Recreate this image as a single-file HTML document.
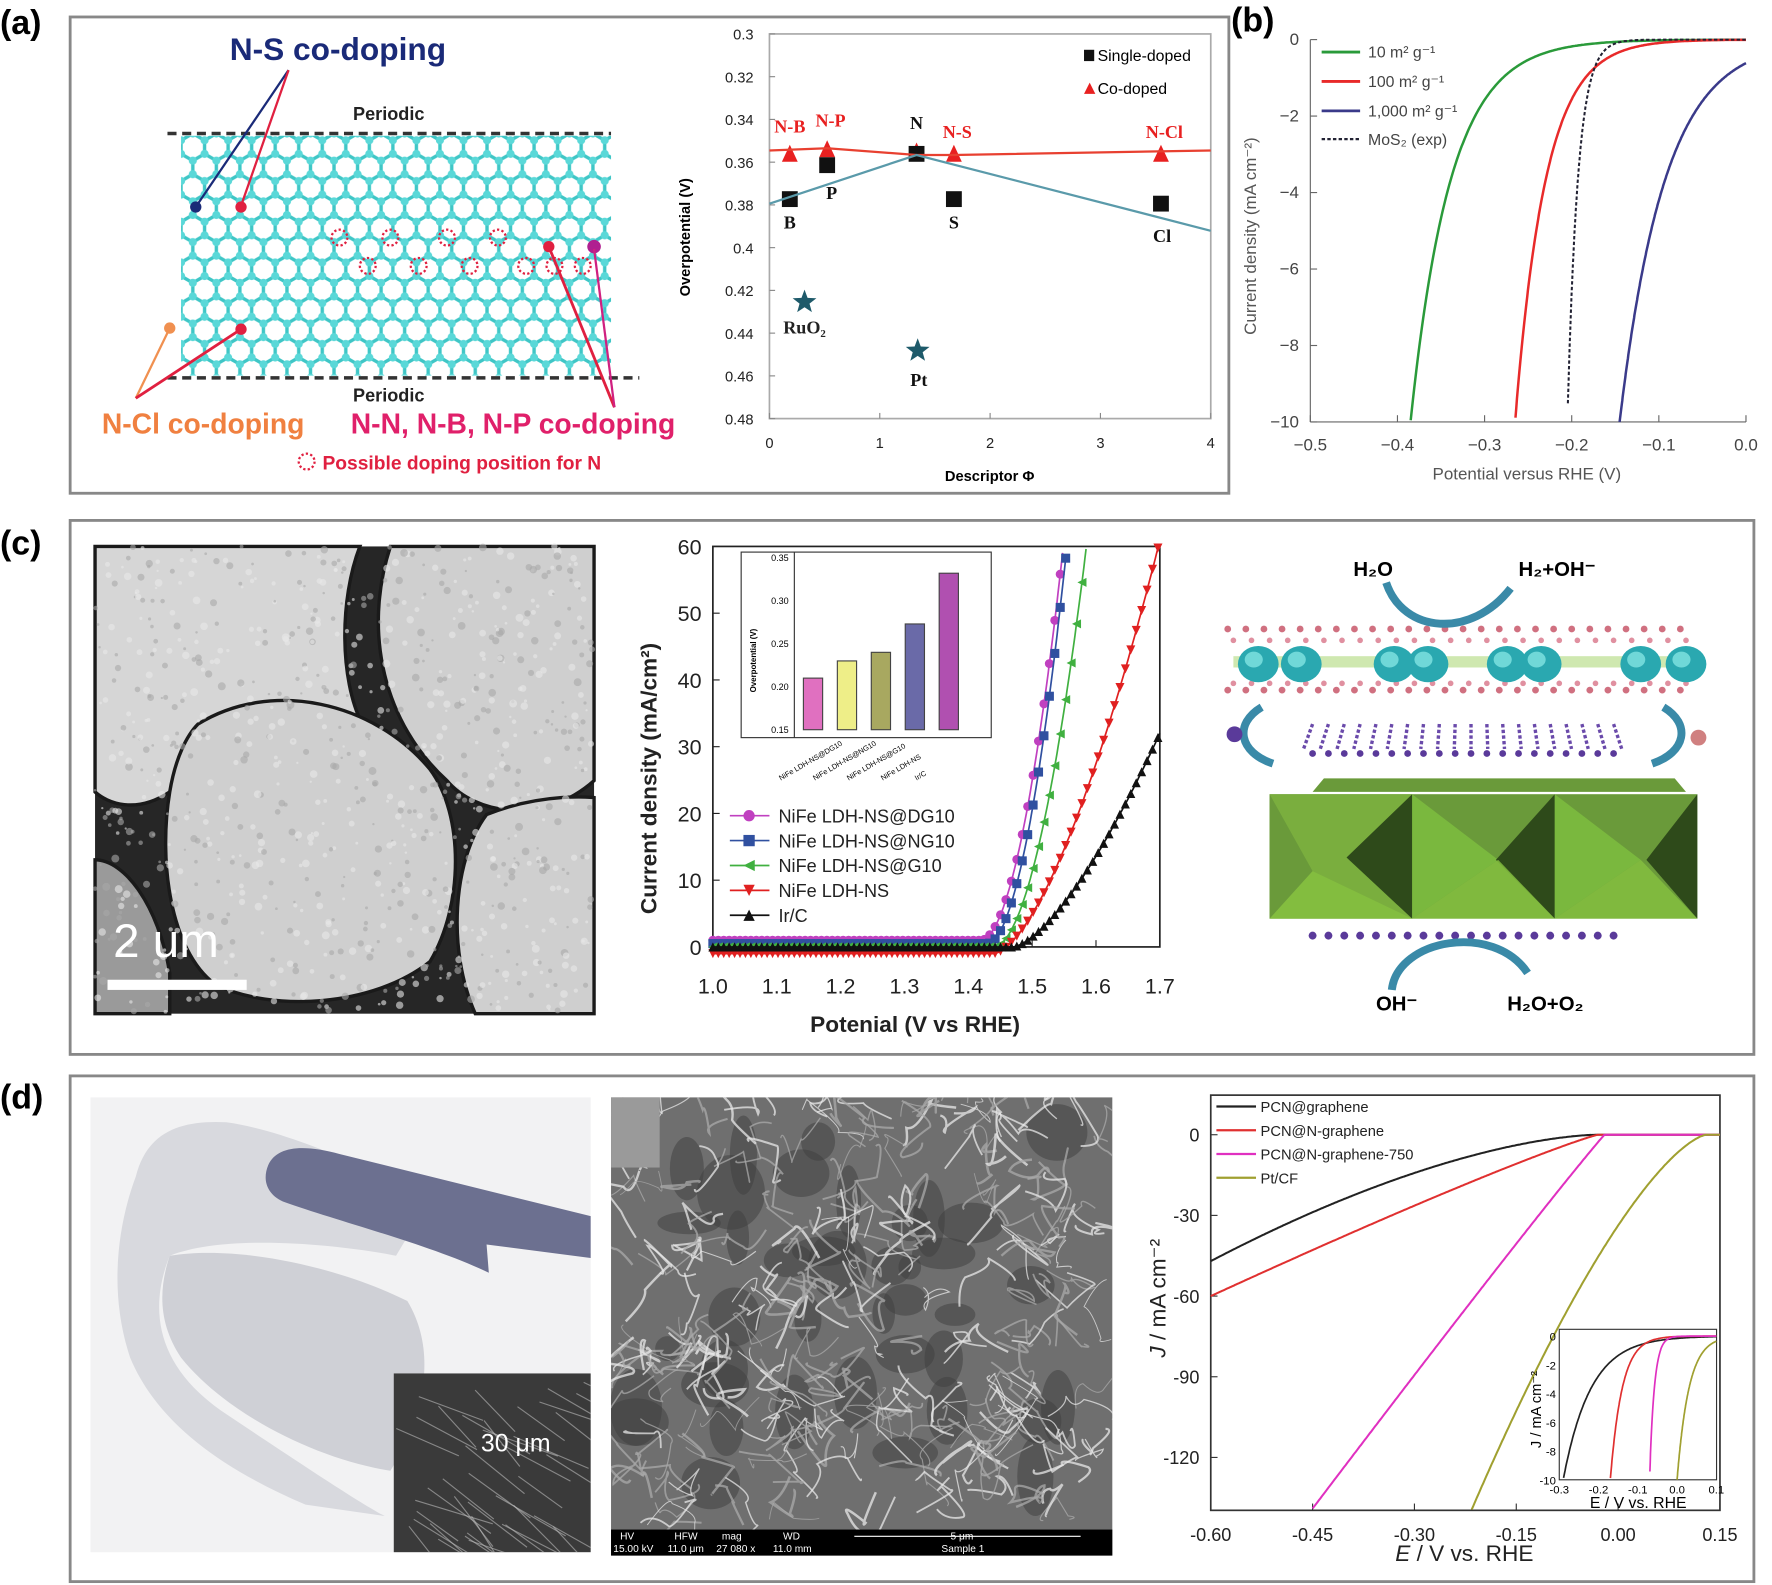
<!DOCTYPE html>
<html><head><meta charset="utf-8"><style>
html,body{margin:0;padding:0;background:#fff;}
svg{display:block;}
text{font-family:"Liberation Sans",sans-serif;}
</style></head><body>
<svg id="g" width="1772" height="1585" viewBox="0 0 1566 1401" preserveAspectRatio="none" xmlns="http://www.w3.org/2000/svg">
<defs>
<pattern id="hex" x="160" y="118" width="20.8" height="36" patternUnits="userSpaceOnUse">
<path d="M0,6 L10.4,0 L20.8,6 L20.8,18 L10.4,24 L0,18 Z M10.4,24 L10.4,36" fill="none" stroke="#3fc6c6" stroke-width="3"/>
<circle cx="0" cy="6" r="3.6" fill="#5ad8d8"/><circle cx="20.8" cy="6" r="3.6" fill="#5ad8d8"/>
<circle cx="10.4" cy="0" r="3.6" fill="#5ad8d8"/><circle cx="10.4" cy="36" r="3.6" fill="#5ad8d8"/>
<circle cx="0" cy="18" r="3.6" fill="#5ad8d8"/><circle cx="20.8" cy="18" r="3.6" fill="#5ad8d8"/>
<circle cx="10.4" cy="24" r="3.6" fill="#5ad8d8"/>
</pattern>
<clipPath id="c1"><rect x="348" y="1214" width="174" height="158"/></clipPath>
<clipPath id="c2"><rect x="540" y="970" width="443" height="382"/></clipPath>
</defs>
<rect width="1566" height="1401" fill="#fff"/>
<rect x="62" y="15" width="1024" height="421" fill="none" stroke="#888" stroke-width="2.5"/>
<rect x="62" y="460" width="1488" height="472" fill="none" stroke="#888" stroke-width="2.5"/>
<rect x="62" y="951" width="1488" height="447" fill="none" stroke="#888" stroke-width="2.5"/>
<text x="0" y="30" font-size="30" font-weight="bold">(a)</text>
<text x="1088" y="28" font-size="30" font-weight="bold">(b)</text>
<text x="0" y="490" font-size="30" font-weight="bold">(c)</text>
<text x="0" y="980" font-size="30" font-weight="bold">(d)</text>

<rect x="160" y="120" width="380" height="212" fill="url(#hex)"/>
<line x1="148" y1="118" x2="540" y2="118" stroke="#333" stroke-width="3" stroke-dasharray="8,5"/>
<line x1="148" y1="334" x2="565" y2="334" stroke="#333" stroke-width="3" stroke-dasharray="8,5"/>
<g id="dope" fill="none" stroke="#e02040" stroke-width="2" stroke-dasharray="2,2"></g>
<text x="312" y="106" font-size="16" font-weight="bold" fill="#222">Periodic</text>
<text x="312" y="355" font-size="16" font-weight="bold" fill="#222">Periodic</text>
<text x="203" y="53" font-size="28" font-weight="bold" fill="#1a2a78">N-S co-doping</text>
<line x1="255" y1="62" x2="175" y2="180" stroke="#1a2a78" stroke-width="2"/>
<line x1="255" y1="62" x2="213" y2="182" stroke="#e02040" stroke-width="2"/>
<circle cx="173" cy="183" r="5" fill="#1a2a78"/><circle cx="213" cy="183" r="5" fill="#e02040"/>
<circle cx="213" cy="291" r="5" fill="#e02040"/><circle cx="150" cy="290" r="5" fill="#f09050"/>
<circle cx="485" cy="218" r="5" fill="#e02040"/><circle cx="525" cy="218" r="6" fill="#b02090"/>
<line x1="120" y1="352" x2="150" y2="290" stroke="#f09050" stroke-width="2"/>
<line x1="120" y1="352" x2="213" y2="291" stroke="#e02040" stroke-width="2.5"/>
<line x1="543" y1="360" x2="485" y2="218" stroke="#e02040" stroke-width="2.5"/>
<line x1="543" y1="360" x2="525" y2="220" stroke="#d02080" stroke-width="2"/>
<text x="90" y="383" font-size="25" font-weight="bold" fill="#f08040">N-Cl co-doping</text>
<text x="310" y="383" font-size="25" font-weight="bold" fill="#e0206a">N-N, N-B, N-P co-doping</text>
<circle cx="271" cy="408" r="7" fill="none" stroke="#e02040" stroke-width="2" stroke-dasharray="2,2"/>
<text x="285" y="415" font-size="17" font-weight="bold" fill="#e02040">Possible doping position for N</text>

<g id="ascat" font-size="13" fill="#222"></g>
<text x="0" y="0" font-size="13" font-weight="bold" transform="translate(610,262) rotate(-90)">Overpotential (V)</text>
<text x="835" y="425" font-size="13" font-weight="bold">Descriptor  Φ</text>
<polyline points="680,133 731,131 810,137 843,137 1070,133" fill="none" stroke="#e84030" stroke-width="2"/>
<polyline points="680,180 810,137 1070,204" fill="none" stroke="#5a9aaa" stroke-width="2"/>
<rect x="958" y="44" width="9" height="10" fill="#111"/><text x="970" y="54" font-size="14">Single-doped</text>
<path d="M958,83 L963,73 L968,83Z" fill="#e82020"/><text x="970" y="83" font-size="14">Co-doped</text>

<g id="bplot"></g>
<text x="0" y="0" font-size="15" fill="#555" transform="translate(1110,296) rotate(-90)">Current density (mA cm⁻²)</text>
<text x="1266" y="424" font-size="15" fill="#555">Potential versus RHE (V)</text>
<line x1="1168" y1="46" x2="1202" y2="46" stroke="#2a9a3a" stroke-width="2.5"/><text x="1209" y="51" font-size="14" fill="#444">10 m² g⁻¹</text>
<line x1="1168" y1="72" x2="1202" y2="72" stroke="#e82a2a" stroke-width="2.5"/><text x="1209" y="77" font-size="14" fill="#444">100 m² g⁻¹</text>
<line x1="1168" y1="98" x2="1202" y2="98" stroke="#3a3a8a" stroke-width="2.5"/><text x="1209" y="103" font-size="14" fill="#444">1,000 m² g⁻¹</text>
<line x1="1168" y1="123" x2="1202" y2="123" stroke="#223" stroke-width="2" stroke-dasharray="3,2"/><text x="1209" y="128" font-size="14" fill="#444">MoS₂ (exp)</text>

<rect x="84" y="483" width="441" height="413" fill="#262626"/>
<g fill="#cfcfcf" stroke="#1a1a1a" stroke-width="3">
<path d="M84,483 L318,483 C300,530 300,600 320,640 C260,620 190,630 150,700 C120,720 95,710 84,700 Z" fill="#d6d6d6"/>
<path d="M345,483 L525,483 L525,690 C480,730 420,720 395,690 C340,640 320,560 345,483Z"/>
<path d="M175,640 C240,600 330,620 380,680 C410,720 410,800 380,850 C330,890 240,895 190,870 C150,840 140,760 150,700 C155,670 165,650 175,640Z"/>
<path d="M430,720 C480,700 525,705 525,705 L525,896 L420,896 C395,840 400,760 430,720Z"/>
<path d="M84,760 C110,760 140,800 150,860 L150,896 L84,896Z" fill="#9a9a9a"/>
</g>
<g id="tex"></g>
<rect x="95" y="866" width="123" height="9" fill="#fff"/>
<text x="100" y="846" font-size="42" fill="#fff">2 um</text>

<g id="cplot"></g>
<text x="0" y="0" font-size="20" font-weight="bold" fill="#222" transform="translate(580,808) rotate(-90)">Current density (mA/cm²)</text>
<text x="716" y="912" font-size="20" font-weight="bold" fill="#222">Potenial (V vs RHE)</text>

<g id="schem"></g>
<text x="1196" y="509" font-size="18" font-weight="bold">H₂O</text>
<text x="1342" y="509" font-size="18" font-weight="bold">H₂+OH⁻</text>
<text x="1216" y="893" font-size="18" font-weight="bold">OH⁻</text>
<text x="1332" y="893" font-size="18" font-weight="bold">H₂O+O₂</text>

<rect x="80" y="970" width="442" height="402" fill="#f2f2f3"/>
<path d="M120,1040 C130,1000 160,990 200,992 C260,1000 340,1040 380,1060 L350,1110 C300,1100 200,1090 150,1110 C130,1160 140,1210 200,1250 C260,1290 320,1330 340,1340 L270,1330 C200,1300 140,1260 115,1200 C95,1140 105,1080 120,1040Z" fill="#d8d9de"/>
<path d="M150,1110 C210,1100 300,1120 360,1150 C390,1200 370,1260 345,1300 C280,1290 200,1250 160,1200 C140,1170 140,1140 150,1110Z" fill="#cfd0d6"/>
<path d="M237,1030 C245,1012 270,1012 300,1020 L522,1075 L522,1112 L430,1100 L432,1125 C380,1100 300,1080 250,1062 C235,1055 232,1042 237,1030Z" fill="#6c7090"/>
<rect x="348" y="1214" width="174" height="158" fill="#3a3a3a"/>
<g id="sem1" clip-path="url(#c1)"></g>
<text x="425" y="1283" font-size="22" fill="#fff">30 μm</text>
<rect x="540" y="970" width="443" height="405" fill="#6f6f6f"/>
<g id="sem2" clip-path="url(#c2)"></g>
<rect x="540" y="970" width="43" height="62" fill="#9a9a9a"/>
<rect x="540" y="1352" width="443" height="23" fill="#000"/>
<g font-size="9" fill="#fff"><text x="548" y="1361">HV</text><text x="596" y="1361">HFW</text><text x="638" y="1361">mag</text><text x="692" y="1361">WD</text><text x="840" y="1361">5 μm</text>
<text x="542" y="1372">15.00 kV</text><text x="590" y="1372">11.0 μm</text><text x="633" y="1372">27 080 x</text><text x="683" y="1372">11.0 mm</text><text x="832" y="1372">Sample 1</text></g>
<line x1="755" y1="1358" x2="955" y2="1358" stroke="#fff"/>

<g id="dplot"></g>
<text x="0" y="0" font-size="20" fill="#222" transform="translate(1030,1200) rotate(-90)"><tspan font-style="italic">J</tspan> / mA cm⁻²</text>
<text x="1233" y="1380" font-size="20" fill="#222"><tspan font-style="italic">E</tspan> / V vs. RHE</text>
</svg>
<script>
var NS="http://www.w3.org/2000/svg";
function el(p,t,a,txt){var e=document.createElementNS(NS,t);for(var k in a)e.setAttribute(k,a[k]);if(txt!=null)e.textContent=txt;p.appendChild(e);return e;}
var R=(function(){var s=7;return function(){s=(s*16807)%2147483647;return s/2147483647;};})();
function curve(g,f,v0,v1,X,Y,attr,n,clip){n=n||200;var pts=[];for(var i=0;i<=n;i++){var v=v0+(v1-v0)*i/n,j=f(v);if(clip&&!clip(j))continue;pts.push(X(v).toFixed(1)+","+Y(j).toFixed(1));}
attr.points=pts.join(" ");attr.fill="none";return el(g,"polyline",attr);}
var dg=document.getElementById("dope");
[[300,210],[325,235],[345,210],[370,235],[395,210],[415,235],[440,210],[465,235],[490,235],[515,235]].forEach(function(p){el(dg,"circle",{cx:p[0],cy:p[1],r:7});});
var a=document.getElementById("ascat");
el(a,"rect",{x:680,y:30,width:390,height:340,fill:"none",stroke:"#aaa","stroke-width":1.5});
for(var i=0;i<=9;i++){var y=30+i*37.78;el(a,"text",{x:666,y:y+5,"text-anchor":"end"},(0.3+i*0.02).toFixed(2).replace(/0+$/,"").replace(/\.$/,""));el(a,"line",{x1:680,x2:685,y1:y,y2:y,stroke:"#888"});}
for(var i=0;i<=4;i++){var x=680+i*97.5;el(a,"text",{x:x,y:396,"text-anchor":"middle"},i);el(a,"line",{x1:x,x2:x,y1:370,y2:365,stroke:"#888"});}
[[698,136],[731,132],[810,134],[843,136],[1026,136]].forEach(function(p){el(a,"path",{d:"M"+(p[0]-7)+","+(p[1]+7)+" L"+p[0]+","+(p[1]-8)+" L"+(p[0]+7)+","+(p[1]+7)+"Z",fill:"#e82020"});});
[[698,176],[731,146],[810,136],[843,176],[1026,180]].forEach(function(p){el(a,"rect",{x:p[0]-7,y:p[1]-7,width:14,height:14,fill:"#111"});});
function star(cx,cy,r){var s="";for(var k=0;k<10;k++){var rr=k%2?r*0.42:r,an=-Math.PI/2+k*Math.PI/5;s+=(k?"L":"M")+(cx+rr*Math.cos(an)).toFixed(1)+","+(cy+rr*Math.sin(an)).toFixed(1);}return s+"Z";}
el(a,"path",{d:star(711,267,11),fill:"#1e5a6a"});el(a,"path",{d:star(811,310,11),fill:"#1e5a6a"});
var lab=[[698,117,"N-B","#e82020"],[734,112,"N-P","#e82020"],[810,114,"N","#111"],[846,122,"N-S","#e82020"],[1029,122,"N-Cl","#e82020"],[698,202,"B","#111"],[735,176,"P","#111"],[843,202,"S","#111"],[1027,214,"Cl","#111"],[812,341,"Pt","#111"]];
lab.forEach(function(l){el(a,"text",{x:l[0],y:l[1],"text-anchor":"middle",fill:l[3],"font-size":16,style:"font-family:'Liberation Serif',serif;font-weight:bold"},l[2]);});
el(a,"text",{x:711,y:295,"text-anchor":"middle","font-size":16,style:"font-family:'Liberation Serif',serif;font-weight:bold"},"RuO₂");
var b=document.getElementById("bplot");
var bX=function(v){return 1158+(v+0.5)*770;},bY=function(j){return 35-j*33.8;};
el(b,"line",{x1:1158,x2:1543,y1:373,y2:373,stroke:"#666"});el(b,"line",{x1:1158,x2:1158,y1:35,y2:373,stroke:"#666"});
for(var j=0;j>=-10;j-=2){el(b,"text",{x:1148,y:bY(j)+5,"text-anchor":"end","font-size":15,fill:"#444"},j==0?"0":"−"+(-j));el(b,"line",{x1:1158,x2:1164,y1:bY(j),y2:bY(j),stroke:"#666"});}
for(var i=0;i<=5;i++){var v=-0.5+i*0.1;el(b,"text",{x:bX(v),y:398,"text-anchor":"middle","font-size":15,fill:"#444"},i==5?"0.0":"−"+(0.5-i*0.1).toFixed(1));el(b,"line",{x1:bX(v),x2:bX(v),y1:373,y2:367,stroke:"#666"});}
var cl=function(j){return j>=-10.05;};
curve(b,function(v){return -10*Math.exp(-(v+0.385)/0.046);},-0.39,0,bX,bY,{stroke:"#2a9a3a","stroke-width":2.2},300,cl);
curve(b,function(v){return -10*Math.exp(-(v+0.265)/0.035);},-0.27,0,bX,bY,{stroke:"#e82a2a","stroke-width":2.2},300,cl);
curve(b,function(v){return -10*Math.exp(-(v+0.205)/0.012);},-0.21,0,bX,bY,{stroke:"#223","stroke-width":1.8,"stroke-dasharray":"3,2"},300,cl);
curve(b,function(v){return -10*Math.exp(-(v+0.145)/0.052);},-0.15,0,bX,bY,{stroke:"#3a3a8a","stroke-width":2.2},300,cl);
var tx=document.getElementById("tex");
for(var i=0;i<900;i++){var x=84+R()*441,y=483+R()*413;el(tx,"circle",{cx:x.toFixed(1),cy:y.toFixed(1),r:(1+R()*2.5).toFixed(1),fill:R()<0.5?"#a8a8a8":"#e8e8e8",opacity:0.6});}
var c=document.getElementById("cplot");
var cX=function(v){return 630+(v-1)*564.3;},cY=function(j){return 837-j*5.9;};
el(c,"rect",{x:630,y:483,width:395,height:354,fill:"none",stroke:"#222","stroke-width":1.5});
for(var j=0;j<=60;j+=10){el(c,"text",{x:620,y:cY(j)+7,"text-anchor":"end","font-size":19,fill:"#222"},j);el(c,"line",{x1:630,x2:636,y1:cY(j),y2:cY(j),stroke:"#222"});}
for(var i=0;i<=7;i++){var v=1+i*0.1;el(c,"text",{x:cX(v),y:878,"text-anchor":"middle","font-size":19,fill:"#222"},v.toFixed(1));el(c,"line",{x1:cX(v),x2:cX(v),y1:837,y2:831,stroke:"#222"});}
function ser(on,v60,jm,p,base){return function(v){return base+(v>on?jm*Math.pow((v-on)/(v60-on),p):0);};}
var S=[["#c040c0",ser(1.42,1.55,60,1.9,1),"c"],["#3050a0",ser(1.43,1.555,60,1.9,0.5),"s"],["#40b040",ser(1.44,1.585,60,1.9,0),"tl"],["#e02020",ser(1.44,1.695,60,1.6,-1),"td"],["#111",ser(1.47,1.7,32,1.5,0),"tu"]];
var cc=function(j){return j<=60.2;};
function mk(g,k,x,y,col,r){if(k=="c")el(g,"circle",{cx:x,cy:y,r:r,fill:col});else if(k=="s")el(g,"rect",{x:x-r,y:y-r,width:2*r,height:2*r,fill:col});
 else if(k=="tl")el(g,"path",{d:"M"+(x-r)+","+y+" L"+(x+r)+","+(y-r)+" L"+(x+r)+","+(y+r)+"Z",fill:col});
 else if(k=="td")el(g,"path",{d:"M"+(x-r)+","+(y-r)+" L"+(x+r)+","+(y-r)+" L"+x+","+(y+r)+"Z",fill:col});
 else el(g,"path",{d:"M"+(x-r)+","+(y+r)+" L"+(x+r)+","+(y+r)+" L"+x+","+(y-r)+"Z",fill:col});}
S.forEach(function(s){curve(c,s[1],1.0,1.7,cX,cY,{stroke:s[0],"stroke-width":1.5},400,cc);
 for(var v=1.0;v<=1.7;v+=0.0085){var j=s[1](v);if(j>60)continue;mk(c,s[2],cX(v),cY(j),s[0],4);}});
var leg=[["NiFe LDH-NS@DG10","#c040c0","c"],["NiFe LDH-NS@NG10","#3050a0","s"],["NiFe LDH-NS@G10","#40b040","tl"],["NiFe LDH-NS","#e02020","td"],["Ir/C","#111","tu"]];
leg.forEach(function(l,i){var y=721+i*22;el(c,"rect",{x:640,y:710+i*22,width:220,height:22,fill:"#fff"});el(c,"line",{x1:645,x2:680,y1:y,y2:y,stroke:l[1],"stroke-width":1.5});mk(c,l[2],662,y,l[1],5);el(c,"text",{x:688,y:y+6,"font-size":16,fill:"#222"},l[0]);});
el(c,"rect",{x:655,y:488,width:221,height:164,fill:"#fff",stroke:"#333"});
var iY=function(v){return 645-(v-0.15)/0.2*152;};
for(var v=0.15;v<=0.351;v+=0.05){el(c,"text",{x:697,y:iY(v)+3,"text-anchor":"end","font-size":8},v.toFixed(2));}
el(c,"line",{x1:702,x2:702,y1:488,y2:652,stroke:"#333"});
var bars=[[0.21,"#e070c0"],[0.23,"#eeee88"],[0.24,"#a8a860"],[0.273,"#6a6aa8"],[0.332,"#b050b0"]];
bars.forEach(function(bb,i){var x=710+i*30;el(c,"rect",{x:x,y:iY(bb[0]),width:17,height:645-iY(bb[0]),fill:bb[1],stroke:"#444"});
 el(c,"text",{x:0,y:0,"font-size":6.5,transform:"translate("+(x-20)+",690) rotate(-30)"},["NiFe LDH-NS@DG10","NiFe LDH-NS@NG10","NiFe LDH-NS@G10","NiFe LDH-NS","Ir/C"][i]);});
el(c,"text",{x:0,y:0,"font-size":7,"font-weight":"bold",transform:"translate(668,612) rotate(-90)"},"Overpotential (V)");
var sc=document.getElementById("schem");
for(var i=0;i<26;i++){var x=1085+i*16;el(sc,"circle",{cx:x,cy:556,r:3,fill:"#d07080"});el(sc,"circle",{cx:x,cy:610,r:3,fill:"#d07080"});el(sc,"circle",{cx:x+5,cy:566,r:2.5,fill:"#e090a0"});el(sc,"circle",{cx:x+5,cy:604,r:2.5,fill:"#e090a0"});}
el(sc,"rect",{x:1090,y:580,width:410,height:10,fill:"#cfe8b0"});
[1112,1150,1232,1262,1332,1362,1450,1490].forEach(function(x){el(sc,"ellipse",{cx:x,cy:587,rx:18,ry:16,fill:"#2aa8b0"});el(sc,"ellipse",{cx:x-4,cy:583,rx:8,ry:7,fill:"#70d8d8"});});
for(var i=0;i<20;i++){var x=1160+i*14;el(sc,"circle",{cx:x,cy:666,r:3,fill:"#5a3a9a"});el(sc,"line",{x1:x,y1:640,x2:x+(i-10)*0.8,y2:662,stroke:"#6a4aaa","stroke-width":3,"stroke-dasharray":"3,2"});el(sc,"circle",{cx:x,cy:827,r:3.5,fill:"#5a3a9a"});}
el(sc,"rect",{x:1122,y:702,width:378,height:110,fill:"#6a9a3a"});
el(sc,"path",{d:"M1122,702 L1248,702 L1248,812 L1122,812Z",fill:"#7aae3e"});
el(sc,"path",{d:"M1122,702 L1160,770 L1122,812Z",fill:"#6a9a3a"});
el(sc,"path",{d:"M1248,702 L1248,812 L1190,758Z",fill:"#2e4a1a"});
el(sc,"path",{d:"M1248,702 L1324,760 L1248,812Z",fill:"#7ab83e"});
el(sc,"path",{d:"M1374,702 L1374,812 L1322,760Z",fill:"#2e4a1a"});
el(sc,"path",{d:"M1374,702 L1450,760 L1374,812Z",fill:"#7ab83e"});
el(sc,"path",{d:"M1500,702 L1500,812 L1455,760Z",fill:"#2e4a1a"});
el(sc,"path",{d:"M1122,812 L1160,770 L1248,812 L1324,760 L1374,812 L1450,760 L1500,812Z",fill:"#86c040",opacity:0.8});
el(sc,"path",{d:"M1160,700 L1170,688 L1480,688 L1490,700Z",fill:"#6a9a3a"});
var ar={fill:"none",stroke:"#3a8aa8","stroke-width":7};
el(sc,"path",Object.assign({d:"M1225,515 C1240,560 1300,565 1335,520"},ar));
el(sc,"path",Object.assign({d:"M1115,625 C1090,640 1095,665 1125,675"},ar));
el(sc,"path",Object.assign({d:"M1470,625 C1495,640 1490,665 1460,675"},ar));
el(sc,"path",Object.assign({d:"M1230,875 C1235,830 1320,815 1350,860"},ar));
el(sc,"circle",{cx:1091,cy:649,r:7,fill:"#5a3a9a"});el(sc,"circle",{cx:1501,cy:652,r:7,fill:"#d08080"});
var s1=document.getElementById("sem1");
for(var i=0;i<40;i++){var x=350+R()*170,y=1216+R()*150;el(s1,"line",{x1:x,y1:y,x2:x+30+R()*40,y2:y+20+R()*30,stroke:"#bbb","stroke-width":1,opacity:0.6});}
var s2=document.getElementById("sem2");
for(var i=0;i<40;i++){el(s2,"ellipse",{cx:(560+R()*400).toFixed(0),cy:(1000+R()*330).toFixed(0),rx:(10+R()*20).toFixed(0),ry:(10+R()*25).toFixed(0),fill:"#3e3e3e",opacity:0.5});}
for(var i=0;i<260;i++){var x=540+R()*443,y=970+R()*380,d="M"+x.toFixed(0)+","+y.toFixed(0);for(var k=0;k<3;k++){x+=(R()-0.5)*60;y+=(R()-0.5)*60;d+=" Q"+(x+(R()-0.5)*20).toFixed(0)+","+(y+(R()-0.5)*20).toFixed(0)+" "+x.toFixed(0)+","+y.toFixed(0);}
 el(s2,"path",{d:d,fill:"none",stroke:R()<0.5?"#e8e8e8":"#aaaaaa","stroke-width":(0.8+R()*1.5).toFixed(1),opacity:0.75});}
var d=document.getElementById("dplot");
var dX=function(v){return 1070+(v+0.6)*600;},dY=function(j){return 1003-j*2.377;};
el(d,"rect",{x:1070,y:968,width:450,height:367,fill:"none",stroke:"#333","stroke-width":1.5});
[0,-30,-60,-90,-120].forEach(function(j){el(d,"text",{x:1060,y:dY(j)+6,"text-anchor":"end","font-size":16,fill:"#222"},j);el(d,"line",{x1:1070,x2:1076,y1:dY(j),y2:dY(j),stroke:"#333"});});
["-0.60","-0.45","-0.30","-0.15","0.00","0.15"].forEach(function(l,i){var x=1070+i*90;el(d,"text",{x:x,y:1362,"text-anchor":"middle","font-size":16,fill:"#222"},l);el(d,"line",{x1:x,x2:x,y1:1335,y2:1329,stroke:"#333"});});
var dc=function(j){return j>=-139.5;};
var F=[["#222",function(v){return v<-0.03?-47*Math.pow((-0.03-v)/0.57,1.6):0;}],
["#e03030",function(v){return v<-0.03?-60*Math.pow((-0.03-v)/0.57,1.1):0;}],
["#e030c0",function(v){return v<-0.02?-139*Math.pow((-0.02-v)/0.43,1.03):0;}],
["#a0a030",function(v){return v<0.13?-139*Math.pow((0.13-v)/0.345,1.45):0;}]];
F.forEach(function(f){curve(d,f[1],-0.6,0.15,dX,dY,{stroke:f[0],"stroke-width":1.8},400,dc);});
["PCN@graphene","PCN@N-graphene","PCN@N-graphene-750","Pt/CF"].forEach(function(l,i){var y=978+i*21;el(d,"line",{x1:1075,x2:1110,y1:y,y2:y,stroke:F[i][0],"stroke-width":2});el(d,"text",{x:1114,y:y+5,"font-size":13,fill:"#222"},l);});
el(d,"rect",{x:1378,y:1175,width:139,height:133,fill:"#fff",stroke:"#333"});
var iX=function(v){return 1378+(v+0.3)*347;},iy=function(j){return 1181-j*12.7;};
[0,-2,-4,-6,-8,-10].forEach(function(j){el(d,"text",{x:1375,y:iy(j)+4,"text-anchor":"end","font-size":10},j);});
["-0.3","-0.2","-0.1","0.0","0.1"].forEach(function(l,i){el(d,"text",{x:1378+i*34.7,y:1320,"text-anchor":"middle","font-size":10},l);});
el(d,"text",{x:1405,y:1333,"font-size":14},"E / V vs. RHE");
el(d,"text",{x:0,y:0,"font-size":13,transform:"translate(1362,1280) rotate(-90)"},"J / mA cm⁻²");
var ic=function(j){return j>=-10.05;};
[["#222",-0.29,0.07],["#e03030",-0.17,0.03],["#e030c0",-0.07,0.012],["#a0a030",0.0,0.03]].forEach(function(s){curve(d,function(v){return -10*Math.exp(-(v-s[1])/s[2]);},s[1]-0.001,0.1,iX,iy,{stroke:s[0],"stroke-width":1.5},200,ic);});
</script>
</body></html>
